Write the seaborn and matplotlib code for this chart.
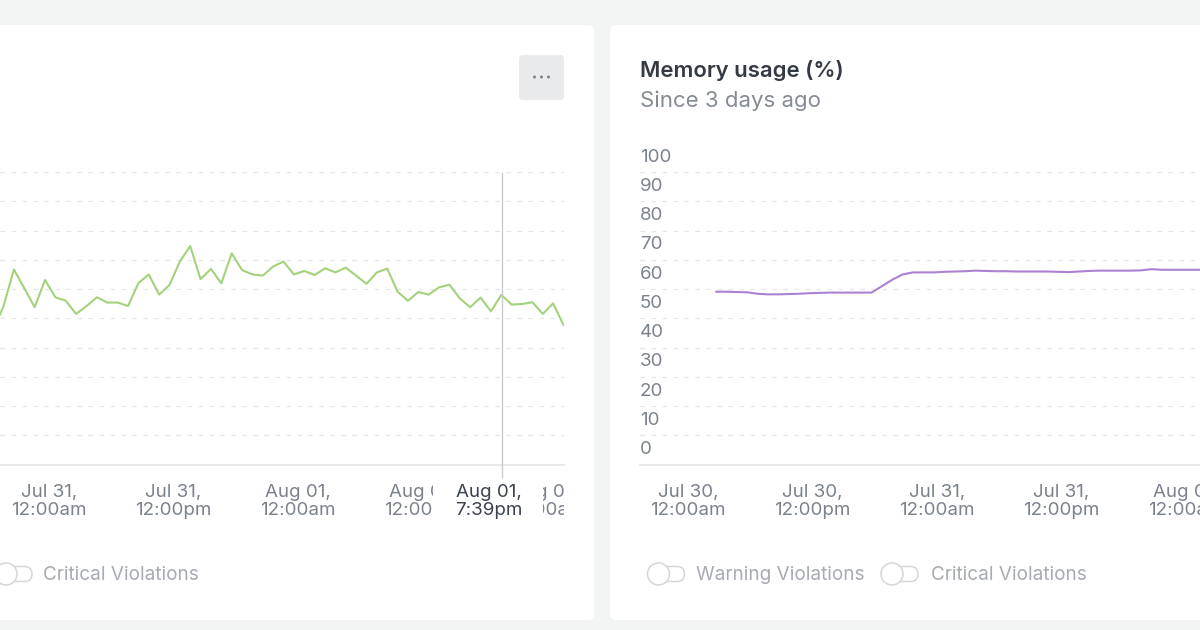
import matplotlib
matplotlib.use("Agg")
import matplotlib.pyplot as plt
import matplotlib.dates as mdates
from matplotlib.patches import FancyBboxPatch, Rectangle, Circle
from matplotlib.transforms import Affine2D, Bbox
import pandas as pd
import seaborn as sns

cpu_values = [46.0, 54.2, 66.7, 60.3, 53.8, 63.1, 57.2, 56.0, 51.5, 54.2, 57.2, 55.4, 55.4, 54.2,
              62.0, 65.0, 58.1, 61.4, 69.4, 74.7, 63.4, 66.9, 62.0, 72.2, 66.5, 65.0, 64.6, 67.7,
              69.4, 65.0, 66.2, 64.8, 67.1, 65.7, 67.3, 64.6, 61.8, 65.7, 67.0, 59.1, 56.0, 59.0,
              58.1, 60.6, 61.5, 56.8, 53.8, 57.1, 52.4, 58.0, 54.7, 54.9, 55.5, 51.5, 55.1, 47.7]
mem_values = [59.1, 59.1, 59.0, 58.9, 58.4, 58.2, 58.2, 58.3, 58.4, 58.6, 58.7, 58.8, 58.8, 58.8,
              58.8, 58.8, 61.0, 63.2, 65.0, 65.7, 65.7, 65.7, 65.9, 66.0, 66.1, 66.3, 66.2, 66.1,
              66.1, 66.0, 66.0, 66.0, 66.0, 65.9, 65.8, 66.0, 66.2, 66.3, 66.3, 66.3, 66.3, 66.4,
              66.8, 66.6, 66.6, 66.6, 66.6, 66.6]
cpu_start = "2021-07-30 18:37"
mem_start = "2021-07-30 02:42"
y_ticks = [0, 10, 20, 30, 40, 50, 60, 70, 80, 90, 100]
left_ticks = ["2021-07-31 00:00", "2021-07-31 12:00", "2021-08-01 00:00", "2021-08-01 12:00", "2021-08-02 00:00"]
left_labels = ["Jul 31,\n12:00am", "Jul 31,\n12:00pm", "Aug 01,\n12:00am", "Aug 01,\n12:00pm", "Aug 02,\n12:00am"]
right_ticks = ["2021-07-30 00:00", "2021-07-30 12:00", "2021-07-31 00:00", "2021-07-31 12:00", "2021-08-01 00:00"]
right_labels = ["Jul 30,\n12:00am", "Jul 30,\n12:00pm", "Jul 31,\n12:00am", "Jul 31,\n12:00pm", "Aug 01,\n12:00am"]
hover_time = "2021-08-01 19:39"
hover_label = "Aug 01,\n7:39pm"

sns.set_theme(style="white")
plt.rcParams["font.family"] = ["Inter", "DejaVu Sans"]

W, H = 1200, 630
BG, CARD = "#f3f5f5", "#ffffff"
TICK, GRID, AXIS = "#7b828c", "#e4e6e8", "#e3e5e8"
LABEL_SIZE = 13.5
fig = plt.figure(figsize=(W / 100, H / 100), dpi=100, facecolor=BG)

bg = fig.add_axes([0, 0, 1, 1], zorder=0)
bg.set_xlim(0, W); bg.set_ylim(H, 0); bg.axis("off")
for x0, x1 in [(-30, 594), (610, 1240)]:
    bg.add_patch(FancyBboxPatch((x0 + 6, 31), x1 - x0 - 12, 583, boxstyle="round,pad=6,rounding_size=6",
                                fc=CARD, ec="none"))


def make_axes(px0, px1, values, start, ticks, labels, color, ref, ref_px):
    ax = fig.add_axes([px0 / W, 1 - 464.7 / H, (px1 - px0) / W, 292.7 / H], zorder=1)
    ax.patch.set_alpha(0)
    df = pd.DataFrame({"time": pd.date_range(start, periods=len(values), freq="h"), "value": values})
    sns.lineplot(data=df, x="time", y="value", ax=ax, color=color, lw=1.5, zorder=3)
    px_hour = 10.37
    r = mdates.date2num(pd.Timestamp(ref))
    ax.set_xlim(r + (px0 - ref_px) / px_hour / 24, r + (px1 - ref_px) / px_hour / 24)
    ax.set_ylim(0, 100)
    ax.set_xlabel(""); ax.set_ylabel("")
    ax.set_yticks(y_ticks)
    ax.set_xticks([mdates.date2num(pd.Timestamp(t)) for t in ticks], labels)
    ax.yaxis.grid(True, color=GRID, lw=0.9, ls=(0, (3.6, 5.2)))
    ax.xaxis.grid(False)
    for s in ["top", "left", "right"]:
        ax.spines[s].set_visible(False)
    ax.spines["bottom"].set_color(AXIS)
    ax.spines["bottom"].set_linewidth(1.2)
    ax.tick_params(axis="x", length=4, width=0.8, color="#eceef0", pad=10.2, labelsize=LABEL_SIZE, labelcolor=TICK)
    ax.tick_params(axis="y", length=0, pad=0, labelsize=LABEL_SIZE, labelcolor=TICK)
    for t in ax.get_xticklabels():
        t.set_linespacing(1.02)
        t.set_clip_on(True)
        t.set_clip_box(Bbox([[px0, 0], [px1, H]]))
    for t in ax.get_yticklabels():
        t.set_ha("left")
        t.set_transform(t.get_transform() + Affine2D().translate(0, 17))
    return ax


left = make_axes(0, 564, cpu_values, cpu_start, left_ticks, left_labels, "#a3d27c", "2021-07-31 00:00", 49)
left.tick_params(axis="y", labelleft=False)
right = make_axes(640, 1200, mem_values, mem_start, right_ticks, right_labels, "#ab82d2", "2021-07-30 00:00", 688)

hx = mdates.date2num(pd.Timestamp(hover_time))
left.vlines(hx, -4.6, 100, color="#c9cdd2", lw=1.0, zorder=4, clip_on=False)

ov = fig.add_axes([0, 0, 1, 1], zorder=2)
ov.set_xlim(0, W); ov.set_ylim(H, 0); ov.axis("off"); ov.patch.set_alpha(0)
ov.add_patch(Rectangle((433, 479), 110, 44, fc=CARD, ec="none"))
ov.text(489, 501.5, hover_label, ha="center", va="center", fontsize=LABEL_SIZE, color="#3b424d", linespacing=1.02)

# menu button
ov.add_patch(FancyBboxPatch((523, 59), 37, 37, boxstyle="round,pad=4,rounding_size=4", fc="#e9eaec", ec="none"))
for dx in (-7, 0, 7):
    ov.add_patch(Circle((541.5 + dx, 77), 1.5, fc="#7d838c", ec="none"))

ov.text(640, 70.5, "Memory usage (%)", fontsize=15.9, fontweight="semibold", color="#343a44", va="center")
ov.text(640, 101, "Since 3 days ago", fontsize=16, color="#858b94", va="center")


def toggle(c, text, tx):
    ov.add_patch(FancyBboxPatch((c, 566.5), 26, 15, boxstyle="round,pad=0,rounding_size=7.5",
                                fc=CARD, ec="#d4d6da", lw=1.1))
    ov.add_patch(Circle((c, 574), 11, fc=CARD, ec="#d4d6da", lw=1.1))
    ov.text(tx, 575, text, fontsize=13.65, color="#a7abb2", va="center")


toggle(6, "Critical Violations", 43)
toggle(658.5, "Warning Violations", 696)
toggle(892, "Critical Violations", 931)

fig.savefig("out.png", dpi=100, facecolor=BG)
